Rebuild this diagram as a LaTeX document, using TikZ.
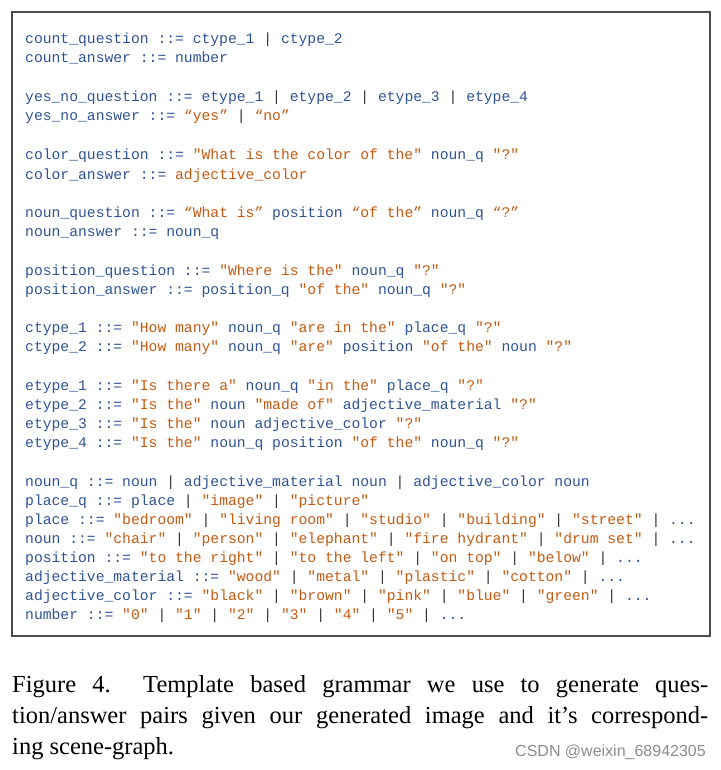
\documentclass[tikz,border=0pt]{standalone}
\usepackage{fontspec}
\setmainfont{Liberation Serif}
\newfontfamily\monof{Liberation Mono}
\definecolor{gblue}{HTML}{2F5496}
\definecolor{gorange}{HTML}{C55A11}
\newcommand\kw[1]{\textcolor{gblue}{#1}}
\newcommand\st[1]{\textcolor{gorange}{#1}}
\newcommand\pp{\textcolor{black!80}{|}}
\begin{document}
\begin{tikzpicture}[x=1pt,y=-1pt,
  ln/.style={anchor=base west,inner sep=0pt,font=\monof\fontsize{14.7}{16}\selectfont,text=gblue},
  captxt/.style={anchor=base west,inner sep=0pt,font=\fontsize{24.5}{28}\selectfont}]
\useasboundingbox (0,0) rectangle (720,770);
\draw[line width=1.2pt,draw=black!70] (12,12) rectangle (710,636);
\node[ln] (l1) at (25,44) {count\_question ::= ctype\_1 \pp{} ctype\_2};
\node[ln] (l2) at (25,63) {count\_answer ::= number};
\node[ln] (l3) at (25,102) {yes\_no\_question ::= etype\_1 \pp{} etype\_2 \pp{} etype\_3 \pp{} etype\_4};
\node[ln] (l4) at (25,121) {yes\_no\_answer ::= \st{“yes”} \pp{} \st{“no”}};
\node[ln] (l5) at (25,160) {color\_question ::= \st{"What is the color of the"} noun\_q \st{"?"}};
\node[ln] (l6) at (25,179) {color\_answer ::= \st{adjective\_color}};
\node[ln] (l7) at (25,217) {noun\_question ::= \st{“What is”} position \st{“of the”} noun\_q \st{“?”}};
\node[ln] (l8) at (25,236) {noun\_answer ::= noun\_q};
\node[ln] (l9) at (25,275) {position\_question ::= \st{"Where is the"} noun\_q \st{"?"}};
\node[ln] (l10) at (25,294) {position\_answer ::= position\_q \st{"of the"} noun\_q \st{"?"}};
\node[ln] (l11) at (25,332) {ctype\_1 ::= \st{"How many"} noun\_q \st{"are in the"} place\_q \st{"?"}};
\node[ln] (l12) at (25,351) {ctype\_2 ::= \st{"How many"} noun\_q \st{"are"} position \st{"of the"} noun \st{"?"}};
\node[ln] (l13) at (25,390) {etype\_1 ::= \st{"Is there a"} noun\_q \st{"in the"} place\_q \st{"?"}};
\node[ln] (l14) at (25,409) {etype\_2 ::= \st{"Is the"} noun \st{"made of"} adjective\_material \st{"?"}};
\node[ln] (l15) at (25,428) {etype\_3 ::= \st{"Is the"} noun adjective\_color \st{"?"}};
\node[ln] (l16) at (25,447) {etype\_4 ::= \st{"Is the"} noun\_q position \st{"of the"} noun\_q \st{"?"}};
\node[ln] (l17) at (25,486) {noun\_q ::= noun \pp{} adjective\_material noun \pp{} adjective\_color noun};
\node[ln] (l18) at (25,505) {place\_q ::= place \pp{} \st{"image"} \pp{} \st{"picture"}};
\node[ln] (l19) at (25,524) {place ::= \st{"bedroom"} \pp{} \st{"living room"} \pp{} \st{"studio"} \pp{} \st{"building"} \pp{} \st{"street"} \pp{} ...};
\node[ln] (l20) at (25,543) {noun ::= \st{"chair"} \pp{} \st{"person"} \pp{} \st{"elephant"} \pp{} \st{"fire hydrant"} \pp{} \st{"drum set"} \pp{} ...};
\node[ln] (l21) at (25,562) {position ::= \st{"to the right"} \pp{} \st{"to the left"} \pp{} \st{"on top"} \pp{} \st{"below"} \pp{} ...};
\node[ln] (l22) at (25,581) {adjective\_material ::= \st{"wood"} \pp{} \st{"metal"} \pp{} \st{"plastic"} \pp{} \st{"cotton"} \pp{} ...};
\node[ln] (l23) at (25,600) {adjective\_color ::= \st{"black"} \pp{} \st{"brown"} \pp{} \st{"pink"} \pp{} \st{"blue"} \pp{} \st{"green"} \pp{} ...};
\node[ln] (l24) at (25,619) {number ::= \st{"0"} \pp{} \st{"1"} \pp{} \st{"2"} \pp{} \st{"3"} \pp{} \st{"4"} \pp{} \st{"5"} \pp{} ...};
\node[captxt] (c1) at (12,692) {\makebox[696pt][s]{Figure 4.\ \ Template based grammar we use to generate ques-}};
\node[captxt] (c2) at (12,723) {\makebox[696pt][s]{tion/answer pairs given our generated image and it’s correspond-}};
\node[captxt] (c3) at (12,754) {ing scene-graph.};
\node[anchor=base east,inner sep=0pt,text=black!45,font=\fontspec{Liberation Sans}\fontsize{16}{18}\selectfont] (wm) at (706,756) {CSDN @weixin\_68942305};
\end{tikzpicture}
\end{document}
